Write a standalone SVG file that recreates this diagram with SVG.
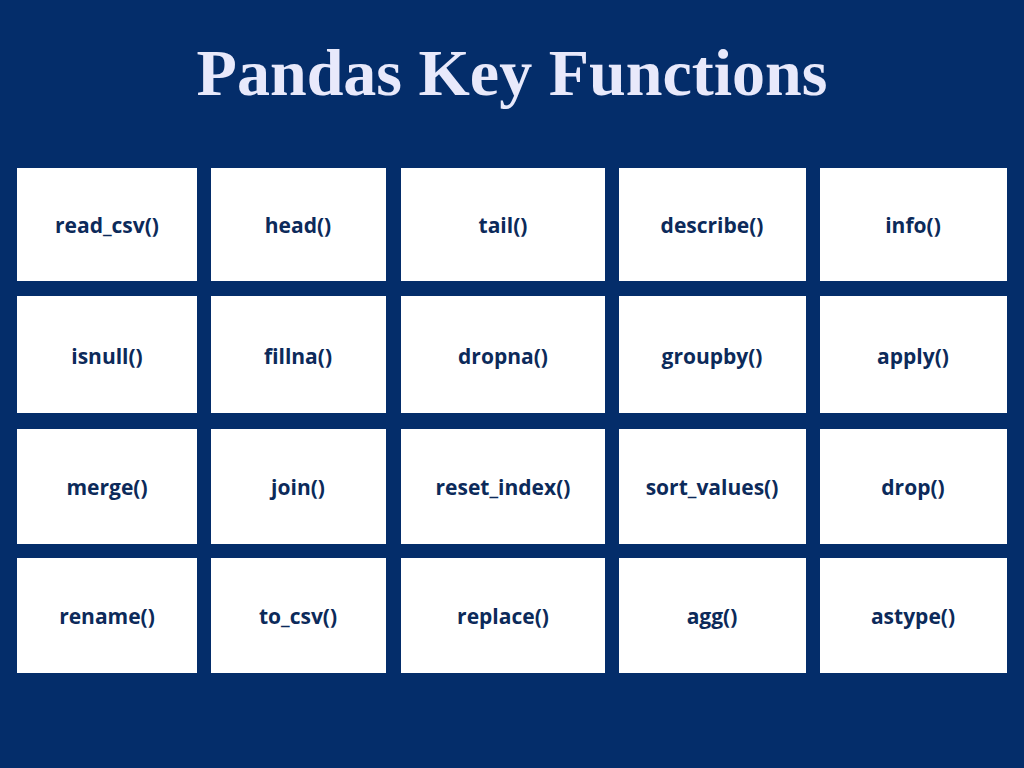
<svg xmlns="http://www.w3.org/2000/svg" width="1024" height="768" viewBox="0 0 1024 768">
<style>
.b{fill:#ffffff}
.t{font-family:"Open Sans","Liberation Sans",sans-serif;font-weight:bold;font-size:21px;fill:#0c2a5a;text-anchor:middle;dominant-baseline:central}
.h{font-family:"Liberation Serif",serif;font-weight:bold;font-size:66px;fill:#e8e9fb;text-anchor:middle}
</style>
<rect width="1024" height="768" fill="#042d6a"/>
<text class="h" x="512" y="95">Pandas Key Functions</text>
<g id="n1"><rect class="b" x="17" y="168" width="180" height="113"/><text class="t" x="107" y="225">read_csv()</text></g>
<g id="n2"><rect class="b" x="211" y="168" width="175" height="113"/><text class="t" x="298" y="225">head()</text></g>
<g id="n3"><rect class="b" x="401" y="168" width="204" height="113"/><text class="t" x="503" y="225">tail()</text></g>
<g id="n4"><rect class="b" x="619" y="168" width="187" height="113"/><text class="t" x="712" y="225">describe()</text></g>
<g id="n5"><rect class="b" x="820" y="168" width="187" height="113"/><text class="t" x="913" y="225">info()</text></g>
<g id="n6"><rect class="b" x="17" y="296" width="180" height="117"/><text class="t" x="107" y="356">isnull()</text></g>
<g id="n7"><rect class="b" x="211" y="296" width="175" height="117"/><text class="t" x="298" y="356">fillna()</text></g>
<g id="n8"><rect class="b" x="401" y="296" width="204" height="117"/><text class="t" x="503" y="356">dropna()</text></g>
<g id="n9"><rect class="b" x="619" y="296" width="187" height="117"/><text class="t" x="712" y="356">groupby()</text></g>
<g id="n10"><rect class="b" x="820" y="296" width="187" height="117"/><text class="t" x="913" y="356">apply()</text></g>
<g id="n11"><rect class="b" x="17" y="429" width="180" height="115"/><text class="t" x="107" y="487">merge()</text></g>
<g id="n12"><rect class="b" x="211" y="429" width="175" height="115"/><text class="t" x="298" y="487">join()</text></g>
<g id="n13"><rect class="b" x="401" y="429" width="204" height="115"/><text class="t" x="503" y="487">reset_index()</text></g>
<g id="n14"><rect class="b" x="619" y="429" width="187" height="115"/><text class="t" x="712" y="487">sort_values()</text></g>
<g id="n15"><rect class="b" x="820" y="429" width="187" height="115"/><text class="t" x="913" y="487">drop()</text></g>
<g id="n16"><rect class="b" x="17" y="558" width="180" height="115"/><text class="t" x="107" y="616">rename()</text></g>
<g id="n17"><rect class="b" x="211" y="558" width="175" height="115"/><text class="t" x="298" y="616">to_csv()</text></g>
<g id="n18"><rect class="b" x="401" y="558" width="204" height="115"/><text class="t" x="503" y="616">replace()</text></g>
<g id="n19"><rect class="b" x="619" y="558" width="187" height="115"/><text class="t" x="712" y="616">agg()</text></g>
<g id="n20"><rect class="b" x="820" y="558" width="187" height="115"/><text class="t" x="913" y="616">astype()</text></g>
<g id="connectors"></g>
</svg>
